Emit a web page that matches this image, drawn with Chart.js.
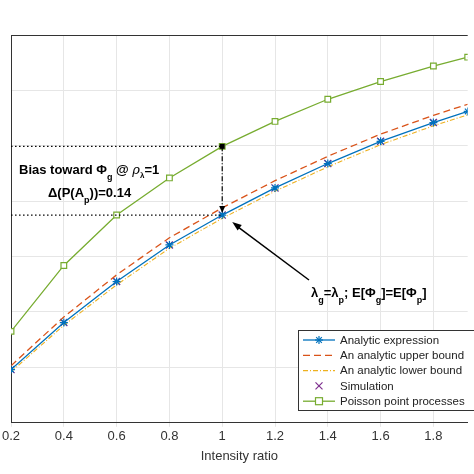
<!DOCTYPE html>
<html>
<head>
<meta charset="utf-8">
<script src="https://cdn.jsdelivr.net/npm/chart.js@4"></script>
<style>
  html, body { margin: 0; padding: 0; background: #fff; }
  #wrap { width: 474px; height: 474px; }
</style>
</head>
<body>
<div id="wrap"><canvas id="c" width="474" height="474"></canvas></div>
<script>
// intensity ratio values
var xs = [0.2, 0.4, 0.6, 0.8, 1.0, 1.2, 1.4, 1.6, 1.8, 1.93];
var analytic = [0.296, 0.381, 0.455, 0.521, 0.575, 0.624, 0.668, 0.708, 0.742, 0.762];
var upper    = [0.303, 0.391, 0.467, 0.534, 0.588, 0.637, 0.681, 0.721, 0.755, 0.775];
var lower    = [0.292, 0.376, 0.449, 0.515, 0.569, 0.618, 0.662, 0.702, 0.736, 0.756];
var simX     = [0.2, 0.4, 0.6, 0.8, 1.0, 1.2, 1.4, 1.6, 1.8];
var simulation = [0.296, 0.381, 0.455, 0.521, 0.575, 0.624, 0.668, 0.708, 0.742];
var poisson  = [0.365, 0.484, 0.575, 0.642, 0.699, 0.744, 0.784, 0.816, 0.844, 0.86];
var xTicks = [0.2, 0.4, 0.6, 0.8, 1, 1.2, 1.4, 1.6, 1.8];

function pts(xv, yv) {
  var out = [];
  for (var i = 0; i < yv.length; i++) out.push({x: xv[i], y: yv[i]});
  return out;
}

var BIG = 'bold 13px "Liberation Sans", Arial, sans-serif';
var SUB = 'bold 9px "Liberation Sans", Arial, sans-serif';

// segments: [text, font, dy]
function richText(ctx, segs, x, y) {
  for (var i = 0; i < segs.length; i++) {
    ctx.font = segs[i][1];
    ctx.fillText(segs[i][0], x, y + (segs[i][2] || 0));
    x += ctx.measureText(segs[i][0]).width;
  }
}

var annot = {
  id: 'annot',
  afterDatasetsDraw: function(chart) {
    var ctx = chart.ctx, xs_ = chart.scales.x, ys_ = chart.scales.y;
    var a = chart.chartArea;
    var x1 = xs_.getPixelForValue(1.0);
    var yP = ys_.getPixelForValue(poisson[4]);
    var yA = ys_.getPixelForValue(analytic[4]);
    ctx.save();
    ctx.strokeStyle = '#000'; ctx.lineWidth = 1.2; ctx.setLineDash([1.5, 2.5]);
    ctx.beginPath(); ctx.moveTo(a.left, yP); ctx.lineTo(x1, yP);
    ctx.moveTo(a.left, yA); ctx.lineTo(x1, yA); ctx.stroke();
    ctx.setLineDash([5, 2, 1, 2]);
    ctx.beginPath(); ctx.moveTo(x1, yP); ctx.lineTo(x1, yA - 6); ctx.stroke();
    ctx.setLineDash([]);
    ctx.fillStyle = '#000';
    ctx.fillRect(x1 - 2.5, yP - 2.5, 5, 5);
    ctx.beginPath(); ctx.moveTo(x1, yA - 2); ctx.lineTo(x1 - 3, yA - 9); ctx.lineTo(x1 + 3, yA - 9); ctx.closePath(); ctx.fill();
    var tx = 309, ty = 280, hx = x1 + 10, hy = yA + 7;
    ctx.lineWidth = 1.5;
    ctx.beginPath(); ctx.moveTo(tx, ty); ctx.lineTo(hx + 6, hy + 5); ctx.stroke();
    var ang = Math.atan2(hy - ty, hx - tx);
    ctx.beginPath(); ctx.moveTo(hx, hy);
    ctx.lineTo(hx - 10 * Math.cos(ang - 0.35), hy - 10 * Math.sin(ang - 0.35));
    ctx.lineTo(hx - 10 * Math.cos(ang + 0.35), hy - 10 * Math.sin(ang + 0.35));
    ctx.closePath(); ctx.fill();
    ctx.textBaseline = 'alphabetic';
    richText(ctx, [['Bias toward \u03A6', BIG], ['g', SUB, 6], [' @ ', BIG],
      ['\u03C1', 'italic 13px "DejaVu Serif", serif'], ['\u03BB', 'bold 8px "Liberation Sans", Arial', 4], ['=1', BIG]], 19, 174);
    richText(ctx, [['\u0394(P(A', BIG], ['p', SUB, 6], ['))=0.14', BIG]], 48, 197);
    richText(ctx, [['\u03BB', BIG], ['g', SUB, 6], ['=\u03BB', BIG], ['p', SUB, 6], ['; E[\u03A6', BIG],
      ['g', SUB, 6], [']=E[\u03A6', BIG], ['p', SUB, 6], [']', BIG]], 311, 297);
    // legend
    var lx = 298, ly = 330, lw = 180, lh = 80;
    ctx.fillStyle = '#fff'; ctx.fillRect(lx, ly, lw, lh);
    ctx.strokeStyle = '#333'; ctx.lineWidth = 1; ctx.strokeRect(lx + 0.5, ly + 0.5, lw, lh);
    var items = chart.data.datasets;
    ctx.font = '11.5px "Liberation Sans", Arial, sans-serif';
    for (var i = 0; i < items.length; i++) {
      var d = items[i], yy = ly + 10 + i * 15.3;
      ctx.strokeStyle = d.borderColor; ctx.lineWidth = d.borderWidth || 1.2;
      ctx.setLineDash(d.borderDash || []);
      if (d.showLine !== false) {
        ctx.beginPath(); ctx.moveTo(lx + 5, yy); ctx.lineTo(lx + 37, yy); ctx.stroke();
      }
      ctx.setLineDash([]);
      ctx.lineWidth = 1.2;
      var cx = lx + 21;
      if (d.pointStyle === 'star') {
        ctx.strokeStyle = d.pointBorderColor || d.borderColor;
        for (var k = 0; k < 4; k++) {
          var an = k * Math.PI / 4;
          ctx.beginPath(); ctx.moveTo(cx - 4 * Math.cos(an), yy - 4 * Math.sin(an));
          ctx.lineTo(cx + 4 * Math.cos(an), yy + 4 * Math.sin(an)); ctx.stroke();
        }
      } else if (d.pointStyle === 'cross') {
        ctx.strokeStyle = d.pointBorderColor;
        ctx.beginPath(); ctx.moveTo(cx - 3.5, yy - 3.5); ctx.lineTo(cx + 3.5, yy + 3.5);
        ctx.moveTo(cx + 3.5, yy - 3.5); ctx.lineTo(cx - 3.5, yy + 3.5); ctx.stroke();
      } else if (d.pointStyle === 'rect') {
        ctx.fillStyle = '#fff'; ctx.fillRect(cx - 3.5, yy - 3.5, 7, 7);
        ctx.strokeStyle = d.borderColor; ctx.strokeRect(cx - 3.5, yy - 3.5, 7, 7);
      }
      ctx.fillStyle = '#222';
      ctx.textBaseline = 'middle';
      ctx.fillText(d.label, lx + 42, yy + 0.5);
    }
    ctx.restore();
  }
};

new Chart(document.getElementById('c'), {
  type: 'line',
  data: {
    datasets: [
      { label: 'Analytic expression', data: pts(xs, analytic), borderColor: '#0072BD', borderWidth: 1.3,
        pointStyle: 'star', pointRadius: 4, pointBorderColor: '#0072BD', pointBorderWidth: 1.2, backgroundColor: '#0072BD' },
      { label: 'An analytic upper bound', data: pts(xs, upper), borderColor: '#D95319', borderWidth: 1.3,
        borderDash: [7, 4], pointRadius: 0 },
      { label: 'An analytic lower bound', data: pts(xs, lower), borderColor: '#EDB120', borderWidth: 1.1,
        borderDash: [5, 2, 1, 2], pointRadius: 0 },
      { label: 'Simulation', data: pts(simX, simulation), showLine: false, borderColor: '#7E2F8E',
        pointStyle: 'cross', rotation: 45, pointRadius: 5, pointBorderColor: '#7E2F8E', pointBorderWidth: 1.3 },
      { label: 'Poisson point processes', data: pts(xs, poisson), borderColor: '#77AC30', borderWidth: 1.3,
        pointStyle: 'rect', pointRadius: 4, pointBorderColor: '#77AC30', pointBackgroundColor: '#fff', pointBorderWidth: 1.2 }
    ]
  },
  options: {
    responsive: false,
    animation: false,
    layout: { padding: { left: 3, top: 35, right: 0, bottom: 6 } },
    plugins: { legend: { display: false }, tooltip: { enabled: false } },
    scales: {
      x: {
        type: 'linear', min: 0.2, max: 1.93,
        afterBuildTicks: function(s) { s.ticks = xTicks.map(function(v) { return {value: v}; }); },
        ticks: { color: '#333', font: { size: 13, family: '"Liberation Sans", Arial' }, padding: 2,
          callback: function(v) { return String(v); } },
        grid: { color: '#e6e6e6', tickLength: 4 },
        border: { color: '#333' },
        title: { display: true, text: 'Intensity ratio', color: '#333', font: { size: 13, family: '"Liberation Sans", Arial' }, padding: { top: 2, bottom: 4 } }
      },
      y: {
        min: 0.2, max: 0.9,
        afterFit: function(s) { s.width = 0; },
        ticks: { display: false, stepSize: 0.1 },
        grid: { color: '#e6e6e6', tickLength: 0 },
        border: { color: '#333' }
      }
    }
  },
  plugins: [annot, {
    id: 'topline',
    afterDraw: function(chart) {
      var a = chart.chartArea, ctx = chart.ctx;
      ctx.save(); ctx.strokeStyle = '#333'; ctx.lineWidth = 1;
      ctx.beginPath(); ctx.moveTo(a.left, a.top + 0.5); ctx.lineTo(a.right, a.top + 0.5); ctx.stroke();
      ctx.restore();
    }
  }]
});
</script>
</body>
</html>
